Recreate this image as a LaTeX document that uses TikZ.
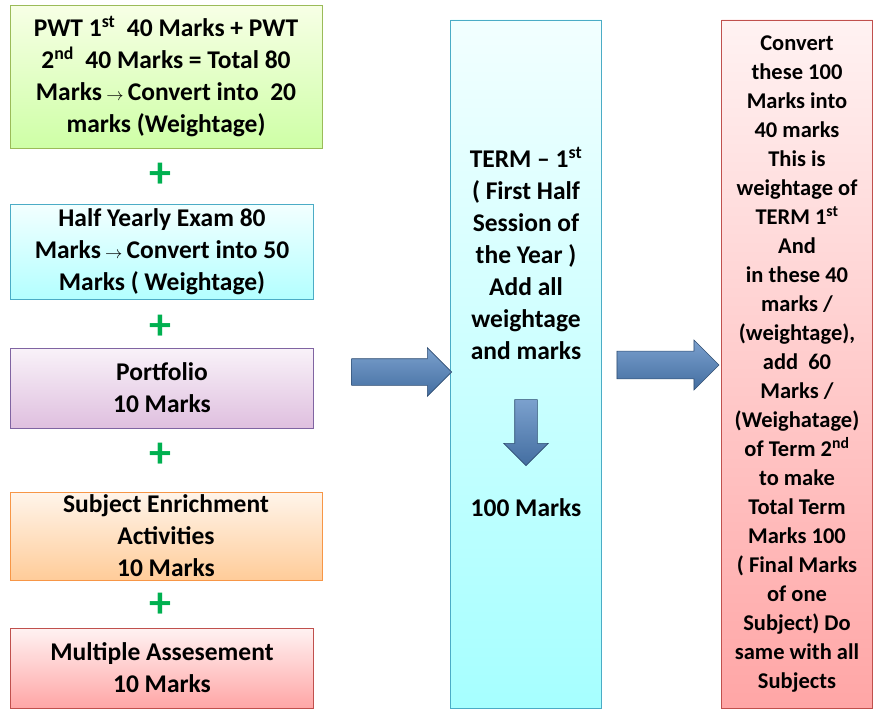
\documentclass[tikz,border=0pt]{standalone}
\usepackage{fontspec}
\setmainfont{Carlito}
\usetikzlibrary{shapes.arrows}
\definecolor{edgeg}{HTML}{9BBB59}
\definecolor{edgeb}{HTML}{4BACC6}
\definecolor{edgep}{HTML}{8064A2}
\definecolor{edgeo}{HTML}{F79646}
\definecolor{edger}{HTML}{C0504D}
\definecolor{plusg}{HTML}{00B050}
\definecolor{arrowb}{HTML}{4F81BD}
\newcommand{\rarr}{\,{\LARGE$\mathbf{\rightarrow}$}\,}
\tikzset{
  markbox/.style={draw=#1, line width=0.6pt, align=center, inner sep=0pt,
    font=\bfseries\fontsize{25.5}{32}\selectfont},
  plussign/.style={text=plusg, font=\bfseries\fontsize{44}{44}\selectfont},
  bigarrow/.style={single arrow, draw=arrowb!60!black, line width=0.6pt,
    top color=arrowb!75!white, bottom color=arrowb!85!black, shading angle=0,
    single arrow head extend=11pt, inner sep=0pt}
}
\begin{document}
\begin{tikzpicture}[x=1pt,y=-1pt]
\useasboundingbox (0,0) rectangle (892,717);
% linker kolom
\node[markbox=edgeg, top color=green!8!lime!10, bottom color=green!40!lime!35,
  minimum width=312pt, minimum height=143pt] (pwt) at (166,77)
  {PWT 1\textsuperscript{st}\ \ 40 Marks + PWT\\2\textsuperscript{nd}\ \ 40 Marks = Total 80\\Marks\rarr Convert into\ \ 20\\marks (Weightage)};
\node[markbox=edgeb, top color=cyan!5, bottom color=cyan!30,
  minimum width=303pt, minimum height=95pt] (half) at (162,252)
  {Half Yearly Exam 80\\Marks\rarr Convert into 50\\Marks ( Weightage)};
\node[markbox=edgep, top color=violet!5, bottom color=violet!25,
  minimum width=303pt, minimum height=80pt] (port) at (162,388)
  {Portfolio\\10 Marks};
\node[markbox=edgeo, top color=orange!8, bottom color=orange!40,
  minimum width=312pt, minimum height=88pt] (sea) at (166,536)
  {Subject Enrichment\\Activities\\10 Marks};
\node[markbox=edger, top color=red!5, bottom color=red!35,
  minimum width=303pt, minimum height=80pt] (mult) at (162,668)
  {Multiple Assesement\\10 Marks};
\foreach \y/\n in {175/p1,327/p2,455/p3,605/p4}
  \node[plussign] (\n) at (160,\y) {+};
% midden
\node[markbox=edgeb, top color=cyan!5, bottom color=cyan!35,
  minimum width=151pt, minimum height=688pt] (term) at (526,364) {};
\node[font=\bfseries\fontsize{25.5}{32}\selectfont, align=center] (termtxt) at (526,253)
  {TERM -- 1\textsuperscript{st}\\( First Half\\Session of\\the Year )\\Add all\\weightage\\and marks};
\node[font=\bfseries\fontsize{25.5}{32}\selectfont] (total) at (526,508) {100 Marks};
\node[bigarrow, minimum height=66pt, minimum width=44pt, rotate=-90] (down) at (526,427) {\rule{0pt}{22pt}};
\node[bigarrow, minimum height=100pt, minimum width=48pt] (a1) at (395,372) {\rule{0pt}{26pt}};
\node[bigarrow, minimum height=102pt, minimum width=50pt] (a2) at (661,365) {\rule{0pt}{27pt}};
% rechts
\node[markbox=edger, top color=red!5, bottom color=red!35,
  minimum width=151pt, minimum height=688pt,
  font=\bfseries\fontsize{22.5}{29}\selectfont] (final) at (797,364)
  {Convert\\these 100\\Marks into\\40 marks\\This is\\weightage of\\TERM 1\textsuperscript{st}\\And\\in these 40\\marks /\\(weightage),\\add\ \ 60\\Marks /\\(Weighatage)\\of Term 2\textsuperscript{nd}\\to make\\Total Term\\Marks 100\\( Final Marks\\of one\\Subject) Do\\same with all\\Subjects};
\end{tikzpicture}
\end{document}
